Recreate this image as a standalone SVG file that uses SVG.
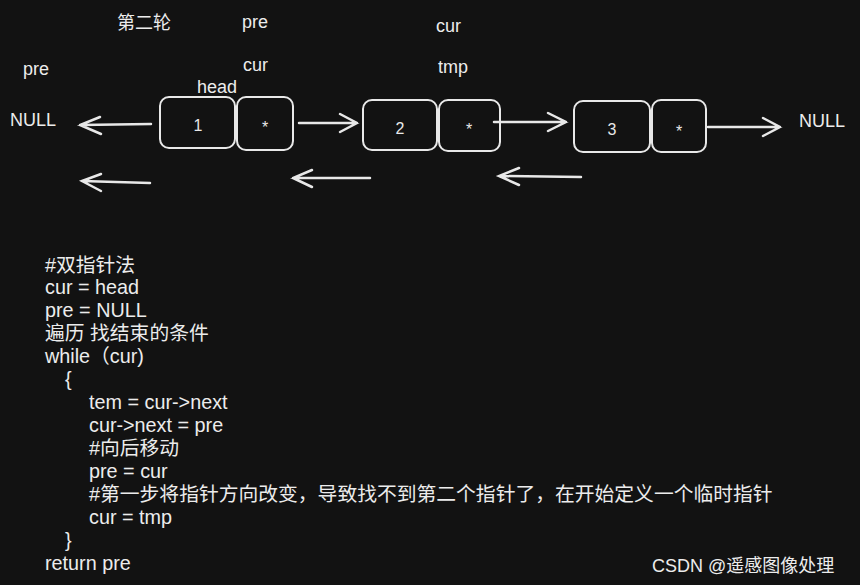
<svg xmlns="http://www.w3.org/2000/svg" width="860" height="585" viewBox="0 0 860 585">
<style>
.t{font-family:"Liberation Sans","Noto Sans CJK SC",sans-serif;font-size:18px;fill:#ececec}
.c{font-size:19.8px}
.b{fill:none;stroke:#e8e8e8;stroke-width:2}
.a{stroke:#e8e8e8;stroke-width:2.5;fill:none;stroke-linecap:round}
.n{font-family:"Liberation Sans",sans-serif;font-size:16px;fill:#e8e8e8;text-anchor:middle}
</style>
<rect width="860" height="585" fill="#121212"/>
<g id="node1"><rect class="b" x="160" y="97" width="75" height="51" rx="9"/><rect class="b" x="237" y="97" width="56" height="53" rx="9"/><text class="n" x="198" y="131">1</text><text class="n" x="265" y="133">*</text></g>
<g id="node2"><rect class="b" x="363" y="100" width="74" height="50" rx="9"/><rect class="b" x="439" y="100" width="61" height="51" rx="9"/><text class="n" x="400" y="134">2</text><text class="n" x="469" y="135">*</text></g>
<g id="node3"><rect class="b" x="574" y="101" width="76" height="51" rx="9"/><rect class="b" x="652" y="100" width="54" height="52" rx="9"/><text class="n" x="612" y="135">3</text><text class="n" x="679" y="137">*</text></g>
<g id="connectors">
<path class="a" d="M151 124 L80 125 M100 117 L80 125 L101 134"/>
<path class="a" d="M299 123 L357 123 M340 114 L357 123 L340 132"/>
<path class="a" d="M494 122 L566 122 M548 113 L566 122 L548 131"/>
<path class="a" d="M708 127 L780 127 M763 118 L780 127 L763 136"/>
<path class="a" d="M150 183 L82 181 M101 174 L82 181 L101 191"/>
<path class="a" d="M370 178 L293 178 M312 170 L293 178 L312 187"/>
<path class="a" d="M581 177 L499 176 M519 168 L499 176 L519 185"/>
</g>
<g id="labels">
<text class="t" x="117" y="29">第二轮</text>
<text class="t" x="242" y="28">pre</text>
<text class="t" x="436" y="32">cur</text>
<text class="t" x="23" y="75">pre</text>
<text class="t" x="243" y="71">cur</text>
<text class="t" x="438" y="73">tmp</text>
<text class="t" x="197" y="93">head</text>
<text class="t" x="10" y="126">NULL</text>
<text class="t" x="799" y="127">NULL</text>
</g>
<g id="code" class="t c">
<text x="45" y="272">#双指针法</text>
<text x="45" y="294">cur = head</text>
<text x="45" y="317">pre = NULL</text>
<text x="45" y="340">遍历 找结束的条件</text>
<text x="45" y="363">while（cur)</text>
<text x="65" y="386">{</text>
<text x="89" y="409">tem = cur-&gt;next</text>
<text x="89" y="432">cur-&gt;next = pre</text>
<text x="89" y="455">#向后移动</text>
<text x="89" y="478">pre = cur</text>
<text x="89" y="501">#第一步将指针方向改变，导致找不到第二个指针了，在开始定义一个临时指针</text>
<text x="89" y="524">cur = tmp</text>
<text x="65" y="547">}</text>
<text x="45" y="570">return pre</text>
</g>
<text class="t" x="652" y="572">CSDN @遥感图像处理</text>
</svg>
